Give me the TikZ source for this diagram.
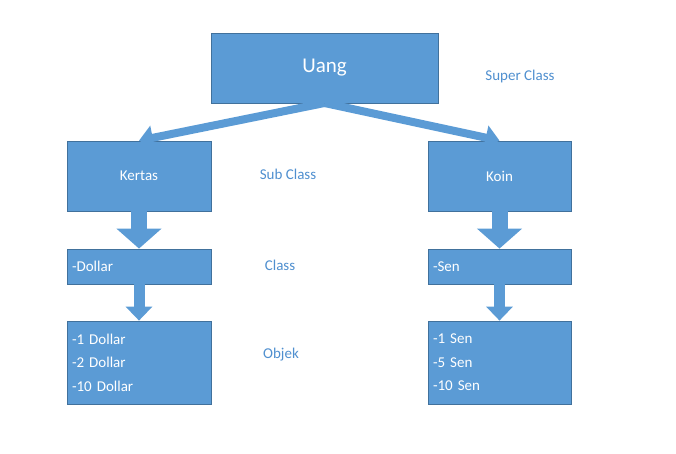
\documentclass[tikz,border=0pt]{standalone}
\usepackage{fontspec}
\setmainfont{Carlito}
\usetikzlibrary{arrows.meta}
\definecolor{bfill}{HTML}{5B9BD5}
\definecolor{bline}{HTML}{41719C}
\definecolor{lbl}{HTML}{4F8FCF}
\begin{document}
\begin{tikzpicture}[x=1pt,y=-1pt,
  box/.style={draw=bline,line width=0.8pt,fill=bfill,text=white,font=\fontsize{15}{18}\selectfont},
  lab/.style={text=lbl,font=\fontsize{15}{18}\selectfont},
  bigarr/.style={draw=bfill,line width=#1,-{Triangle[width=2.4*#1,length=1.1*#1]}}]
\useasboundingbox (0,0) rectangle (676,453);
\node[box,minimum width=227pt,minimum height=70pt,font=\fontsize{21}{24}\selectfont] (uang) at (324.5,68) {Uang};
\node[box,minimum width=144pt,minimum height=70pt] (kertas) at (139,176) {Kertas};
\node[box,minimum width=143pt,minimum height=70pt] (koin) at (499.5,176) {Koin};
\node[box,minimum width=144pt,minimum height=35pt,text width=134pt,align=left] (dollar) at (139,266.5) {-Dollar};
\node[box,minimum width=143pt,minimum height=35pt,text width=133pt,align=left] (sen) at (499.5,266.5) {-Sen};
\node[box,minimum width=144pt,minimum height=83pt,text width=134pt,align=left,font=\fontsize{15}{23.5}\selectfont] (od) at (139,362.5) {-1 Dollar\\-2 Dollar\\-10 Dollar};
\node[box,minimum width=143pt,minimum height=83pt,text width=133pt,align=left,font=\fontsize{15}{23.5}\selectfont] (os) at (499.5,362.5) {-1 Sen\\-5 Sen\\-10 Sen};
\node[lab] (l1) at (520,76) {Super Class};
\node[lab] (l2) at (288,174) {Sub Class};
\node[lab] (l3) at (280,265) {Class};
\node[lab] (l4) at (281,355) {Objek};
\coordinate (top) at (324.5,103);
\draw[draw=bfill,line width=8pt,-{Triangle[width=24pt,length=14pt]}] (top) -- (kertas.north);
\draw[draw=bfill,line width=8pt,-{Triangle[width=24pt,length=14pt]}] (top) -- (koin.north);
\draw[draw=bfill,line width=16pt,-{Triangle[width=44pt,length=20pt]}] (kertas.south) -- (dollar.north);
\draw[draw=bfill,line width=16pt,-{Triangle[width=44pt,length=20pt]}] (koin.south) -- (sen.north);
\draw[draw=bfill,line width=11pt,-{Triangle[width=26pt,length=14pt]}] (dollar.south) -- (od.north);
\draw[draw=bfill,line width=11pt,-{Triangle[width=26pt,length=14pt]}] (sen.south) -- (os.north);
\end{tikzpicture}
\end{document}
